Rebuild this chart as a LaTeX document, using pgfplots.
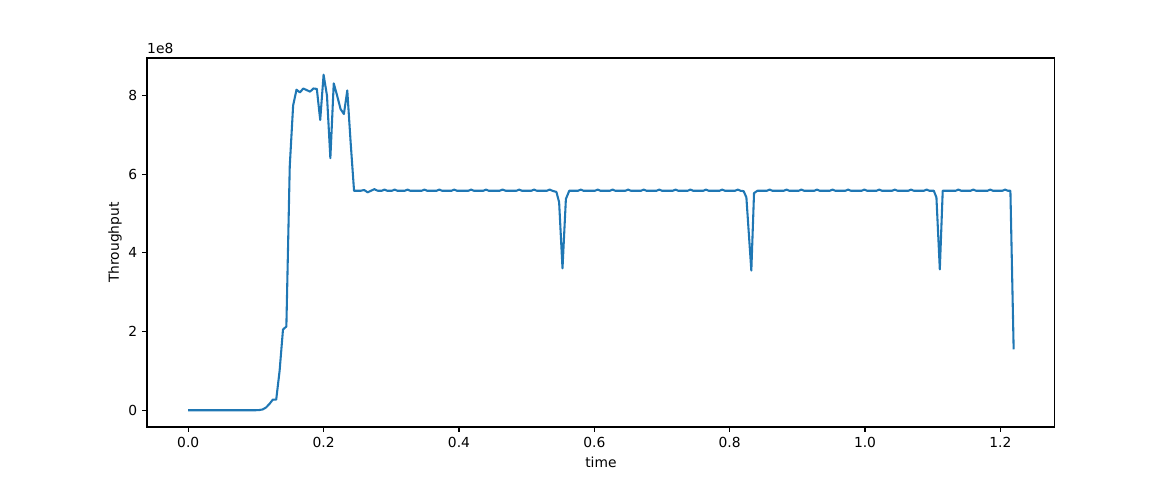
\documentclass[border=0pt]{standalone}
\usepackage{fontspec}
\setmainfont{DejaVu Sans}
\usepackage{pgfplots}
\pgfplotsset{compat=1.18}
\definecolor{mplblue}{HTML}{1F77B4}
\begin{document}
\begin{tikzpicture}
\begin{axis}[
  name=ax,
  scale only axis,
  width=656.2pt, height=266.7pt,
  xmin=-0.061, xmax=1.2806,
  ymin=-0.4265, ymax=8.9565,
  xtick={0,0.2,0.4,0.6,0.8,1.0,1.2},
  xticklabels={0.0,0.2,0.4,0.6,0.8,1.0,1.2},
  ytick={0,2,4,6,8},
  tick align=outside,
  xtick pos=bottom, ytick pos=left,
  major tick length=3.5pt,
  every tick/.style={black, line width=0.8pt},
  axis line style={line width=0.8pt},
  /pgf/number format/assume math mode=true,
  tick label style={font=\fontsize{10}{12}\selectfont},
  label style={font=\fontsize{10}{12}\selectfont},
  xlabel={time}, ylabel={Throughput},
  ylabel style={yshift=-2pt},
]
\addplot[mplblue, line width=1.5pt, line join=round, no marks] coordinates {
(0,0) (0.1,0) (0.105,0.005) (0.11,0.02) (0.115,0.07) (0.12,0.16) (0.125,0.27) (0.13,0.27)
(0.135,1.0) (0.14,2.05) (0.145,2.13) (0.15,6.2) (0.155,7.75) (0.16,8.15) (0.165,8.08)
(0.17,8.18) (0.175,8.14) (0.18,8.1) (0.185,8.18) (0.19,8.17) (0.195,7.38) (0.2,8.53)
(0.205,8.0) (0.21,6.41) (0.215,8.31) (0.22,8.0) (0.225,7.66) (0.23,7.53) (0.235,8.13)
(0.24,6.8) (0.245,5.58) (0.255,5.58) (0.26,5.6) (0.265,5.54) (0.27,5.58) (0.275,5.62)
(0.28,5.58) (0.286,5.58) (0.29,5.61) (0.294,5.58) (0.301,5.58) (0.305,5.61) (0.309,5.58)
(0.32,5.58) (0.324,5.61) (0.328,5.58) (0.345,5.58) (0.349,5.61) (0.353,5.58)
(0.367,5.58) (0.371,5.61) (0.375,5.58) (0.389,5.58) (0.393,5.61) (0.397,5.58)
(0.414,5.58) (0.418,5.61) (0.422,5.58) (0.436,5.58) (0.44,5.61) (0.444,5.58)
(0.46,5.58) (0.4645,5.61) (0.469,5.58) (0.485,5.58) (0.489,5.61) (0.493,5.58)
(0.507,5.58) (0.511,5.61) (0.515,5.58) (0.53,5.58) (0.534,5.61) (0.538,5.58)
(0.544,5.55) (0.548,5.29) (0.553,3.61) (0.558,5.37) (0.563,5.58)
(0.576,5.58) (0.58,5.61) (0.584,5.58) (0.601,5.58) (0.605,5.61) (0.609,5.58)
(0.623,5.58) (0.627,5.61) (0.631,5.58) (0.646,5.58) (0.65,5.61) (0.654,5.58)
(0.669,5.58) (0.673,5.61) (0.677,5.58) (0.692,5.58) (0.696,5.61) (0.7,5.58)
(0.716,5.58) (0.72,5.61) (0.724,5.58) (0.738,5.58) (0.742,5.61) (0.746,5.58)
(0.761,5.58) (0.765,5.61) (0.769,5.58) (0.785,5.58) (0.789,5.61) (0.793,5.58)
(0.808,5.58) (0.812,5.61) (0.816,5.58) (0.8207,5.57) (0.8247,5.41) (0.832,3.55)
(0.836,5.52) (0.841,5.58)
(0.855,5.58) (0.859,5.61) (0.863,5.58) (0.88,5.58) (0.884,5.61) (0.888,5.58)
(0.902,5.58) (0.906,5.61) (0.91,5.58) (0.925,5.58) (0.929,5.61) (0.933,5.58)
(0.948,5.58) (0.952,5.61) (0.956,5.58) (0.971,5.58) (0.975,5.61) (0.979,5.58)
(0.995,5.58) (0.999,5.61) (1.003,5.58) (1.017,5.58) (1.021,5.61) (1.025,5.58)
(1.04,5.58) (1.044,5.61) (1.048,5.58) (1.064,5.58) (1.068,5.61) (1.072,5.58)
(1.087,5.58) (1.091,5.61) (1.095,5.58) (1.1016,5.58) (1.1055,5.41) (1.1105,3.58)
(1.1148,5.58)
(1.134,5.58) (1.138,5.61) (1.142,5.58) (1.156,5.58) (1.16,5.61) (1.164,5.58)
(1.181,5.58) (1.185,5.61) (1.189,5.58) (1.203,5.58) (1.207,5.61) (1.211,5.58)
(1.2148,5.58) (1.2196,1.55)
};
\end{axis}
\node[anchor=south west, inner sep=0pt, font=\fontsize{10}{12}\selectfont] at ([yshift=3pt]ax.north west) {1e8};
\path ([shift={(-106.2pt,-38.3pt)}]ax.south west) rectangle ([shift={(740.8pt,308.6pt)}]ax.south west);
\end{tikzpicture}
\end{document}
